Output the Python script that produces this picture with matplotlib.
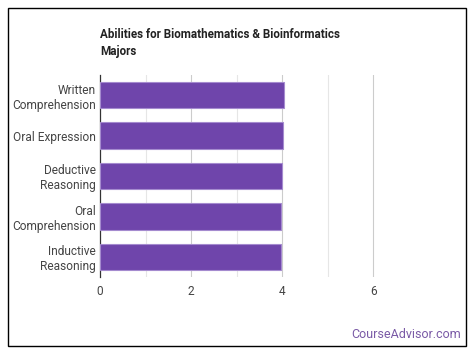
import matplotlib; matplotlib.use("Agg")
import matplotlib.pyplot as plt
from matplotlib.patches import Rectangle

abilities = ["Written\nComprehension", "Oral Expression", "Deductive\nReasoning",
             "Oral\nComprehension", "Inductive\nReasoning"]
scores = [4.03, 4.01, 3.99, 3.97, 3.97]
xticks = [0, 2, 4, 6]

BAR = "#6f45ab"; EDGE = "#a58bcf"; TXT = "#444444"
plt.rcParams["font.family"] = ["Roboto", "DejaVu Sans"]

fig = plt.figure(figsize=(4.76, 3.57), dpi=100)
W, H = 476, 357
ax = fig.add_axes([100 / W, 1 - 277 / H, 319 / W, 202 / H])

y = list(range(len(abilities)))
ax.barh(y, scores, height=0.65, color=BAR, edgecolor=EDGE, linewidth=0.8, zorder=3)
ax.set_ylim(len(abilities) - 0.5, -0.5)
ax.set_xlim(0, 7)
ax.set_yticks(y)
ax.set_yticklabels(abilities, fontsize=8.6, color=TXT, linespacing=1.2)
ax.set_xticks(xticks)
ax.set_xticklabels([str(t) for t in xticks], fontsize=8.6, color=TXT)
for v in [1, 2, 3, 4, 5, 6]:
    ax.axvline(v, color="#cccccc" if v % 2 == 0 else "#e6e6e6", lw=0.8, zorder=1)
ax.tick_params(axis="both", length=0, pad=3)
ax.tick_params(axis="x", pad=6)
for s in ["top", "right", "bottom"]:
    ax.spines[s].set_visible(False)
ax.spines["left"].set_color("#333333")
ax.spines["left"].set_linewidth(0.9)

fig.text(100 / W, 1 - 43 / H, "Abilities for Biomathematics & Bioinformatics\nMajors",
         fontsize=8.4, fontweight="bold", color="#222222", va="center", ha="left",
         linespacing=1.5)
fig.text(461 / W, 1 - 334 / H, "CourseAdvisor.com", fontsize=9, color="#7a5aa6",
         ha="right", va="center")
fig.patches.append(Rectangle((8 / W, 1 - 346 / H), 458 / W, 338 / H, transform=fig.transFigure,
                             fill=False, edgecolor="black", linewidth=1.0))
fig.savefig("out.png", dpi=100)
